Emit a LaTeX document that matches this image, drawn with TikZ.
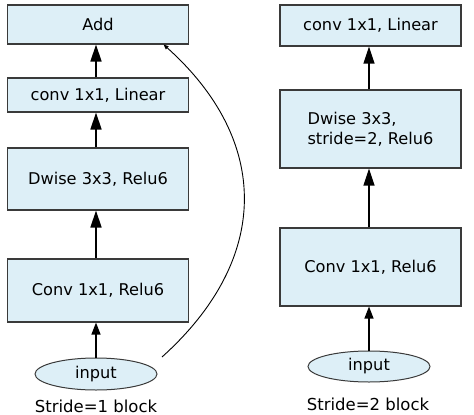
\documentclass[tikz,border=0pt]{standalone}
\usepackage{fontspec}
\setmainfont{DejaVu Sans}
\usetikzlibrary{calc,arrows.meta,shapes.geometric}
\definecolor{light_blue}{HTML}{DDEFF7}
\definecolor{dark_grey}{HTML}{3A3A3A}

\begin{document}
\begin{tikzpicture}[x=1pt, y=-1pt,
	block/.style={draw=dark_grey, line width=1.1pt, fill=light_blue, inner sep=0pt, minimum width=181pt, font=\fontsize{16.2}{20}\selectfont},
	data/.style={ellipse, draw=dark_grey, line width=1pt, fill=light_blue, inner sep=0pt, minimum width=122pt, minimum height=32pt, font=\fontsize{16.2}{20}\selectfont},
	caption/.style={inner sep=0pt, font=\fontsize{16.5}{20}\selectfont},
	flow/.style={line width=1.7pt, -{Triangle[length=17pt, width=11pt]}},
	feed/.style={line width=1.3pt, -{Triangle[length=17pt, width=11pt]}},
	entry/.style={line width=1.2pt, -{Triangle[length=12pt, width=9pt]}},
	skip/.style={line width=0.9pt, -{Triangle[length=5pt, width=4pt]}}]
	\useasboundingbox (0, 0) rectangle (474, 415);
	% stride 1
	\node[block, minimum height=39pt] (add) at (98, 24.5) {Add};
	\node[block, minimum height=34pt] (lin_l) at (98, 95) {conv 1x1, Linear};
	\node[block, minimum height=62pt] (dw_l) at (98, 179) {Dwise 3x3, Relu6};
	\node[block, minimum height=63pt] (exp_l) at (98, 290.5) {Conv 1x1, Relu6};
	\node[data] (in_l) at (96, 374) {input};
	\node[caption] (cap_l) at (96, 406) {Stride=1 block};
	\draw[entry] (in_l.north) -- (in_l.north |- exp_l.south);
	\draw[flow] (exp_l.north -| in_l.north) -- (in_l.north |- dw_l.south);
	\draw[flow] (dw_l.north -| in_l.north) -- (in_l.north |- lin_l.south);
	\draw[flow] (lin_l.north -| in_l.north) -- (in_l.north |- add.south);
	\coordinate (sk_start) at (162, 357);
	\coordinate (sk_end) at ($(add.south east)!0.14!(add.south west)$);
	\draw[skip] (sk_start) .. controls (272, 258) and (270, 140) .. (sk_end);
	% stride 2
	\node[block, minimum height=41pt] (lin_r) at (370.5, 25.5) {conv 1x1, Linear};
	\node[block, minimum height=78pt, align=left] (dw_r) at (370.5, 129) {Dwise 3x3,\\stride=2, Relu6};
	\node[block, minimum height=78pt] (exp_r) at (370.5, 267) {Conv 1x1, Relu6};
	\node[data, minimum height=31pt] (in_r) at (369, 366.5) {input};
	\node[caption] (cap_r) at (368, 404) {Stride=2 block};
	\draw[entry] (in_r.north) -- (in_r.north |- exp_r.south);
	\draw[feed] (exp_r.north -| in_r.north) -- (in_r.north |- dw_r.south);
	\draw[feed] (dw_r.north -| in_r.north) -- (in_r.north |- lin_r.south);
\end{tikzpicture}
\end{document}
